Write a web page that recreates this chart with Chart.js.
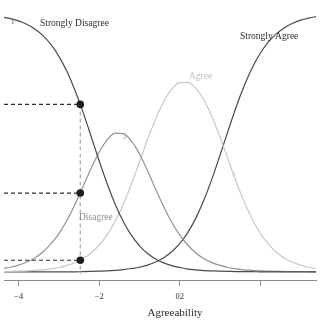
<!DOCTYPE html>
<html>
<head>
<meta charset="utf-8">
<script src="https://cdn.jsdelivr.net/npm/chart.js@4/dist/chart.umd.min.js"></script>
<style>
html,body{margin:0;padding:0;background:#fff;}
#c{display:block;}
</style>
</head>
<body>
<canvas id="c" width="320" height="320"></canvas>
<script>
// ---- data ----
const theta = [-4.4,-4.2,-4.0,-3.8,-3.6,-3.4,-3.2,-3.0,-2.8,-2.6,-2.4,-2.2,-2.0,-1.8,-1.6,-1.4,-1.2,-1.0,-0.8,-0.6,-0.4,-0.2,0.0,0.2,0.4,0.6,0.8,1.0,1.2,1.4,1.6,1.8,2.0,2.2,2.4,2.6,2.8,3.0,3.2,3.4];
const stronglyDisagree = [0.986,0.980,0.971,0.958,0.940,0.915,0.880,0.834,0.775,0.702,0.617,0.524,0.429,0.340,0.260,0.194,0.141,0.101,0.071,0.050,0.035,0.024,0.017,0.011,0.008,0.005,0.004,0.003,0.002,0.001,0.001,0.001,0,0,0,0,0,0,0,0];
const disagree = [0.013,0.018,0.026,0.038,0.054,0.077,0.108,0.148,0.200,0.262,0.331,0.401,0.464,0.512,0.537,0.535,0.506,0.456,0.391,0.320,0.252,0.192,0.142,0.103,0.073,0.051,0.036,0.025,0.017,0.012,0.008,0.006,0.004,0.003,0.002,0.001,0.001,0.001,0,0];
const agree = [0.001,0.002,0.003,0.004,0.006,0.008,0.012,0.017,0.025,0.036,0.051,0.073,0.104,0.144,0.197,0.263,0.340,0.425,0.512,0.592,0.659,0.707,0.732,0.733,0.710,0.664,0.599,0.520,0.434,0.348,0.270,0.203,0.149,0.107,0.076,0.053,0.037,0.026,0.018,0.012];
const stronglyAgree = [0,0,0,0,0,0,0,0,0,0,0.001,0.002,0.003,0.004,0.006,0.009,0.013,0.018,0.026,0.038,0.055,0.078,0.110,0.153,0.209,0.279,0.361,0.453,0.547,0.639,0.721,0.791,0.847,0.890,0.922,0.945,0.962,0.974,0.982,0.988];
const markTheta = -2.47;
const markProbs = [0.648, 0.305, 0.045];
const tickValues = [-4, -2, 0, 2];
const tickLabels = ['\u22124', '\u22122', '02', ''];
const xTitle = 'Agreeability';

// ---- scale limits ----
const X_MIN = -4.363, X_MAX = 3.379;
const Y_MIN = -0.0345, Y_MAX = 1.0365;

const pts = arr => theta.map((t, i) => ({x: t, y: arr[i]}));
const curve = (arr, color, order) => ({
  data: pts(arr), borderColor: color, borderWidth: 1.2, pointRadius: 0,
  cubicInterpolationMode: 'monotone', fill: false, order: order
});

const datasets = [
  curve(stronglyDisagree, '#4a4a4a', 3),
  curve(disagree, '#929292', 3),
  curve(agree, '#c8c8c8', 3),
  curve(stronglyAgree, '#4a4a4a', 3)
];
markProbs.forEach(p => {
  datasets.push({
    data: [{x: X_MIN, y: p}, {x: markTheta, y: p}],
    borderColor: '#2a2a2a', borderWidth: 1.2, borderDash: [4, 3],
    pointRadius: 0, fill: false, order: 2
  });
});
datasets.push({
  data: [{x: markTheta, y: markProbs[0]}, {x: markTheta, y: -0.008}],
  borderColor: '#a8a8a8', borderWidth: 1.2, borderDash: [4, 3],
  pointRadius: 0, fill: false, order: 2
});
datasets.push({
  data: markProbs.map(p => ({x: markTheta, y: p})),
  showLine: false, pointRadius: 3.8, pointBackgroundColor: '#1e1e1e',
  pointBorderColor: '#1e1e1e', pointBorderWidth: 0, order: 0
});

const labelPlugin = {
  id: 'labels',
  afterDatasetsDraw(chart) {
    const ctx = chart.ctx;
    ctx.save();
    ctx.textBaseline = 'middle';
    ctx.textAlign = 'left';
    ctx.font = '9.5px "Liberation Serif", serif';
    ctx.fillStyle = '#2e2e2e';
    ctx.fillText('Strongly Disagree', 40, 23);
    ctx.fillText('Strongly Agree', 240, 36);
    ctx.fillStyle = '#c2c2c2';
    ctx.fillText('Agree', 189, 76);
    ctx.fillStyle = '#8a9494';
    ctx.fillText('Disagree', 79, 217);
    ctx.font = '7px "Liberation Serif", serif';
    ctx.fillStyle = '#555';
    ctx.fillText('1', 11, 22);
    ctx.fillStyle = '#999';
    ctx.fillText('2', 123, 137);
    ctx.fillStyle = '#c8c8c8';
    ctx.fillText('3', 232, 174);
    ctx.textAlign = 'center';
    ctx.font = '11px "Liberation Serif", serif';
    ctx.fillStyle = '#2a2a2a';
    ctx.fillText(xTitle, 175, 313);
    ctx.restore();
  }
};

new Chart(document.getElementById('c'), {
  type: 'line',
  data: {datasets},
  plugins: [labelPlugin],
  options: {
    responsive: false, animation: false, devicePixelRatio: 1,
    layout: {padding: {left: 0, right: 0, top: 0, bottom: 12}},
    plugins: {legend: {display: false}, tooltip: {enabled: false}},
    scales: {
      x: {
        type: 'linear', min: X_MIN, max: X_MAX,
        afterBuildTicks: s => { s.ticks = tickValues.map(v => ({value: v})); },
        ticks: {
          autoSkip: false, maxRotation: 0, padding: 6,
          color: '#333', font: {family: '"Liberation Serif", serif', size: 8.5},
          callback: v => { const i = tickValues.indexOf(v); return i >= 0 ? tickLabels[i] : ''; }
        },
        grid: {drawOnChartArea: false, drawTicks: true, tickLength: 5, color: '#8a8a8a', lineWidth: 1},
        border: {display: true, color: '#8a8a8a', width: 1}
      },
      y: {display: false, min: Y_MIN, max: Y_MAX}
    }
  }
});
</script>
</body>
</html>
